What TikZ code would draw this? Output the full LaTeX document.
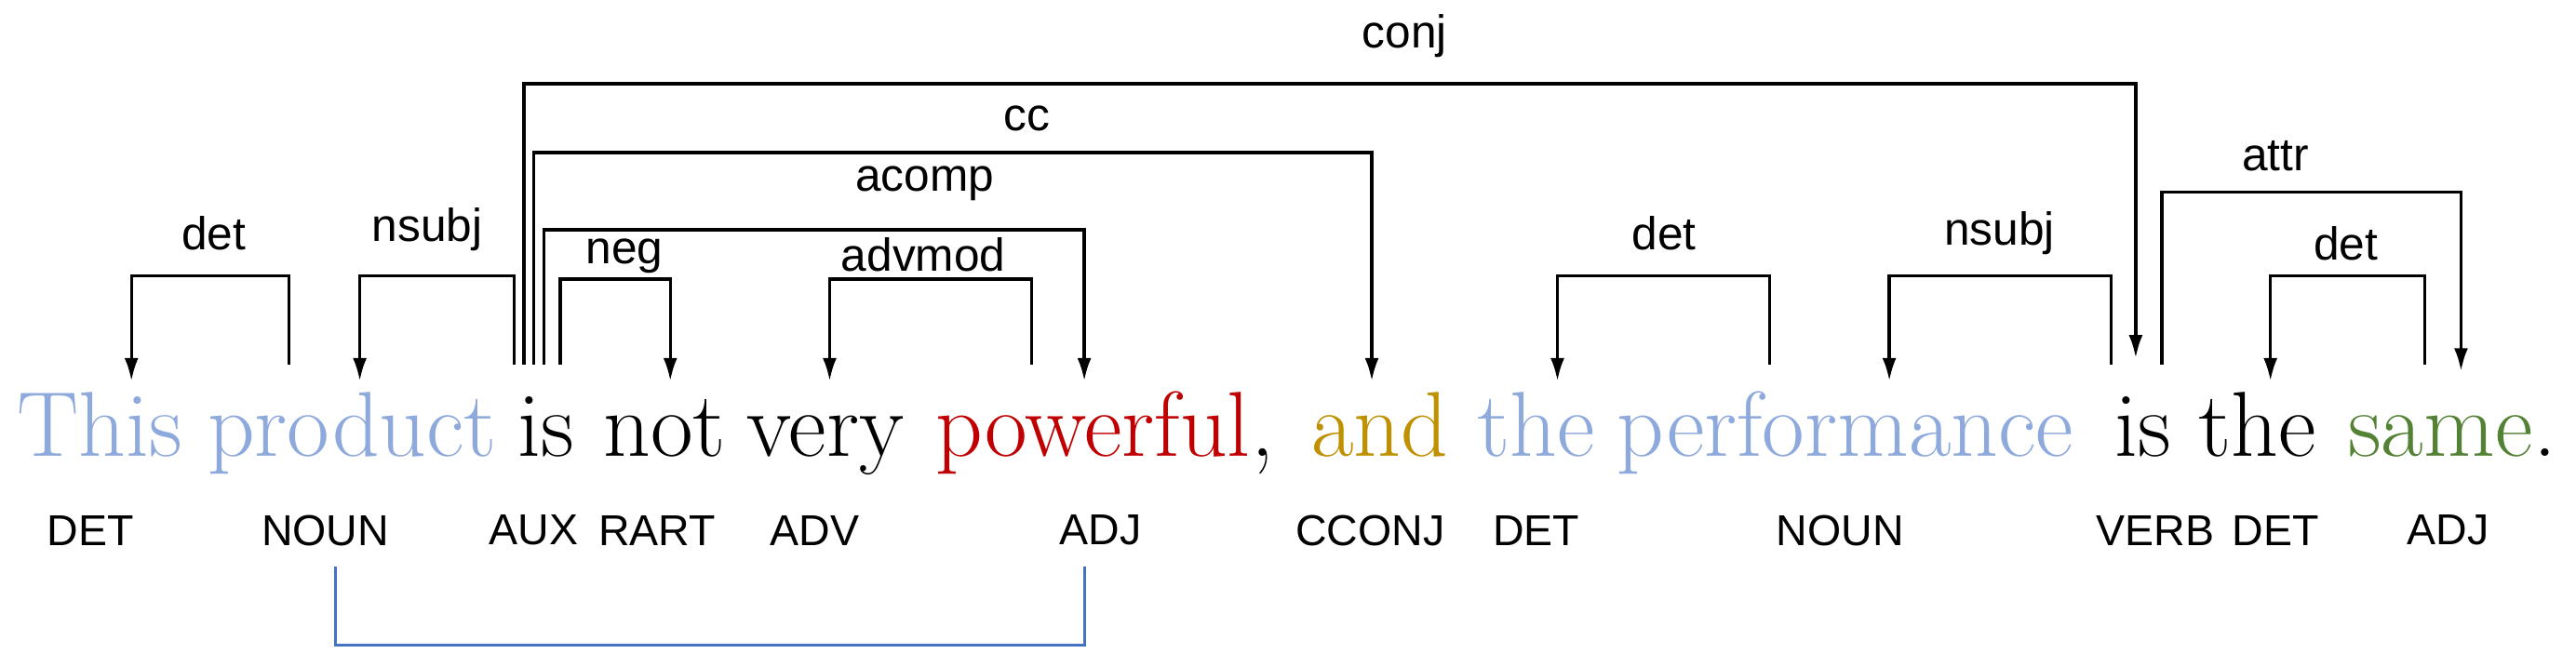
\documentclass[tikz,border=0pt]{standalone}
\usepackage{fontspec}
\setsansfont{Liberation Sans}
\usetikzlibrary{arrows.meta}
\definecolor{lblue}{HTML}{8EA9DB}
\definecolor{dred}{HTML}{C00000}
\definecolor{gold}{HTML}{BF9000}
\definecolor{dgreen}{HTML}{548235}
\definecolor{bblue}{HTML}{4472C4}
\begin{document}
\begin{tikzpicture}[x=0.02cm,y=-0.02cm,
  word/.style={anchor=base west,inner sep=0pt,font=\fontsize{32}{34}\selectfont},
  lab/.style={inner sep=0pt,font=\sffamily\fontsize{16}{18}\selectfont},
  postag/.style={inner sep=0pt,font=\sffamily\fontsize{15}{17}\selectfont},
  dep/.style={line width=1.1pt,-{Latex[length=0.28cm,width=0.17cm]}}]
\useasboundingbox (0,0) rectangle (1568,406);
% words
\node[word,text=lblue] (w1) at (10,278) {This};
\node[word,text=lblue] (w2) at (126,278) {product};
\node[word] (w3) at (315,278) {is};
\node[word] (w4) at (367,278) {not};
\node[word] (w5) at (454,278) {very};
\node[word,text=dred] (w6) at (569,278) {powerful};
\node[word] (wc) at (w6.base east) {,};
\node[word,text=gold] (w7) at (798,278) {and};
\node[word,text=lblue] (w8) at (899,278) {the};
\node[word,text=lblue] (w9) at (984,278) {performance};
\node[word] (w10) at (1287,278) {is};
\node[word] (w11) at (1338,278) {the};
\node[word,text=dgreen] (w12) at (1429,278) {same};
\node[word] (wp) at (w12.base east) {.};
% POS
\node[postag] (p1) at (55,323) {DET};
\node[postag] (p2) at (198,323) {NOUN};
\node[postag] (p3) at (325,323) {AUX};
\node[postag] (p4) at (400,323) {RART};
\node[postag] (p5) at (496,323) {ADV};
\node[postag] (p6) at (670,323) {ADJ};
\node[postag] (p7) at (834,323) {CCONJ};
\node[postag] (p8) at (935,323) {DET};
\node[postag] (p9) at (1120,323) {NOUN};
\node[postag] (p10) at (1312,323) {VERB};
\node[postag] (p11) at (1385,323) {DET};
\node[postag] (p12) at (1490,323) {ADJ};
% arrows
\foreach \n/\tx/\ty/\hx/\hy/\lab/\lx/\ly in {
  a/176/168/80/232/det/130/142,
  b/313/168/219/232/nsubj/260/140,
  c/319/51/1300/218/conj/855/22,
  d/325/93/835/232/cc/625/72,
  e/331/140/660/232/acomp/563/112,
  f/341/170/408/232/neg/380/156,
  g/628/170/505/232/advmod/562/155,
  h/1077/168/948/232/det/1013/142,
  i/1285/168/1150/232/nsubj/1217/142,
  j/1316/117/1498/226/attr/1385/95,
  k/1476/168/1382/232/det/1428/148}{
  \coordinate (t\n) at (\tx,222);
  \coordinate (h\n) at (\hx,\hy);
  \coordinate (c\n) at (\tx,\ty);
  \coordinate (d\n) at (\hx,\ty);
  \draw[dep] (t\n) -- (c\n) -- (d\n) -- (h\n);
  \node[lab] (l\n) at (\lx,\ly) {\lab};
}
% blue bracket
\coordinate (b1) at (204,345);
\coordinate (b2) at (204,393);
\coordinate (b3) at (660,393);
\coordinate (b4) at (660,345);
\draw[bblue,line width=1pt] (b1) -- (b2) -- (b3) -- (b4);
\end{tikzpicture}
\end{document}
